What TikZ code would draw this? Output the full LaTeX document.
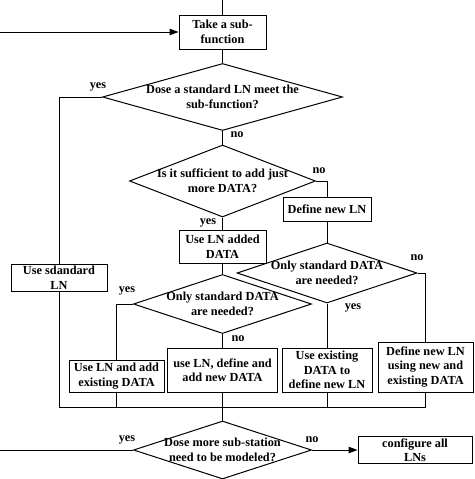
\documentclass[tikz,border=0pt]{standalone}
\usepackage{fontspec}
\setmainfont{Liberation Serif}
\usetikzlibrary{shapes.geometric,arrows.meta}
\begin{document}
\begin{tikzpicture}[x=1pt, y=-1pt, line width=1pt]
\tikzset{boite/.style={draw, rectangle, align=center, inner sep=1pt, font=\fontsize{12.3}{14.5}\selectfont\bfseries},
losange/.style={draw, diamond, align=center, inner xsep=-45pt, inner ysep=-14pt, font=\fontsize{12.3}{14.5}\selectfont\bfseries},
etiq/.style={inner sep=0pt, font=\fontsize{12.3}{14.5}\selectfont\bfseries},
fleche/.style={-{Triangle[length=9pt, width=6.5pt]}}}
\useasboundingbox (0,0) rectangle (474,479);
\node[boite, minimum width=87pt, minimum height=34pt] (T) at (222.5,32) {Take a sub-\\function};
\node[losange, minimum width=240pt, minimum height=67pt] (D1) at (222.5,97) {Dose a standard LN meet the\\sub-function?};
\node[losange, minimum width=186pt, minimum height=72pt] (D2) at (222.5,181) {Is it sufficient to add just\\more DATA?};
\node[boite, minimum width=88pt, minimum height=24pt] (DN) at (327,209) {Define new LN};
\node[boite, minimum width=87pt, minimum height=33pt] (UA) at (222.5,246.5) {Use LN added\\DATA};
\node[losange, minimum width=180pt, minimum height=60pt] (D3) at (327,273) {Only standard DATA\\are needed?};
\node[boite, minimum width=96pt, minimum height=27pt] (US) at (59,277.5) {Use sdandard\\LN};
\node[losange, minimum width=178pt, minimum height=59pt] (D4) at (222.5,304) {Only standard DATA\\are needed?};
\node[boite, minimum width=95pt, minimum height=32pt] (B1) at (116.5,376) {Use LN and add\\existing DATA};
\node[boite, minimum width=110pt, minimum height=44pt] (B2) at (222.5,370) {use LN, define and\\add new DATA};
\node[boite, minimum width=90pt, minimum height=44pt] (B3) at (327,370) {Use existing\\DATA to\\define new LN};
\node[boite, minimum width=95pt, minimum height=50pt] (B4) at (425.5,367) {Define new LN\\using new and\\existing DATA};
\node[losange, minimum width=178pt, minimum height=58pt] (D5) at (222.5,450) {Dose more sub-station\\need to be modeled?};
\node[boite, minimum width=114pt, minimum height=27pt] (F) at (415,450) {configure all\\LNs};
\node[etiq] (Y1) at (98,87) {yes};
\node[etiq] (N1) at (237,135) {no};
\node[etiq] (N2) at (319,171) {no};
\node[etiq] (Y2) at (208,223) {yes};
\node[etiq] (N3) at (417,258) {no};
\node[etiq] (Y3) at (353,308) {yes};
\node[etiq] (Y4) at (127,291) {yes};
\node[etiq] (N4) at (238,339) {no};
\node[etiq] (Y5) at (127,440) {yes};
\node[etiq] (N5) at (312,440) {no};
\coordinate (H) at (222.5,0);
\coordinate (G1) at (0,32);
\coordinate (G2) at (0,450);
\coordinate (J) at (222.5,407);
\coordinate (S) at (222.5,479);
\draw[fleche] (G1) -- (T);
\draw (H) -- (T);
\draw (T) -- (D1);
\draw (D1.west) -| (US.north);
\draw (D1) -- (D2);
\draw (D2.east) -| (DN.north);
\draw (D2) -- (UA);
\draw (DN) -- (D3);
\draw (UA) -- (D4);
\draw (D3.east) -| (B4.north);
\draw (D3) -- (B3);
\draw (D4.west) -| (B1.north);
\draw (D4) -- (B2);
\draw (US.south) |- (B4.south |- J) -- (B4.south);
\draw (B1.south) -- (B1.south |- J);
\draw (B3.south) -- (B3.south |- J);
\draw (B2) -- (D5);
\draw (D5.west) -- (G2);
\draw[fleche] (D5) -- (F);
\draw (D5) -- (S);
\end{tikzpicture}
\end{document}
